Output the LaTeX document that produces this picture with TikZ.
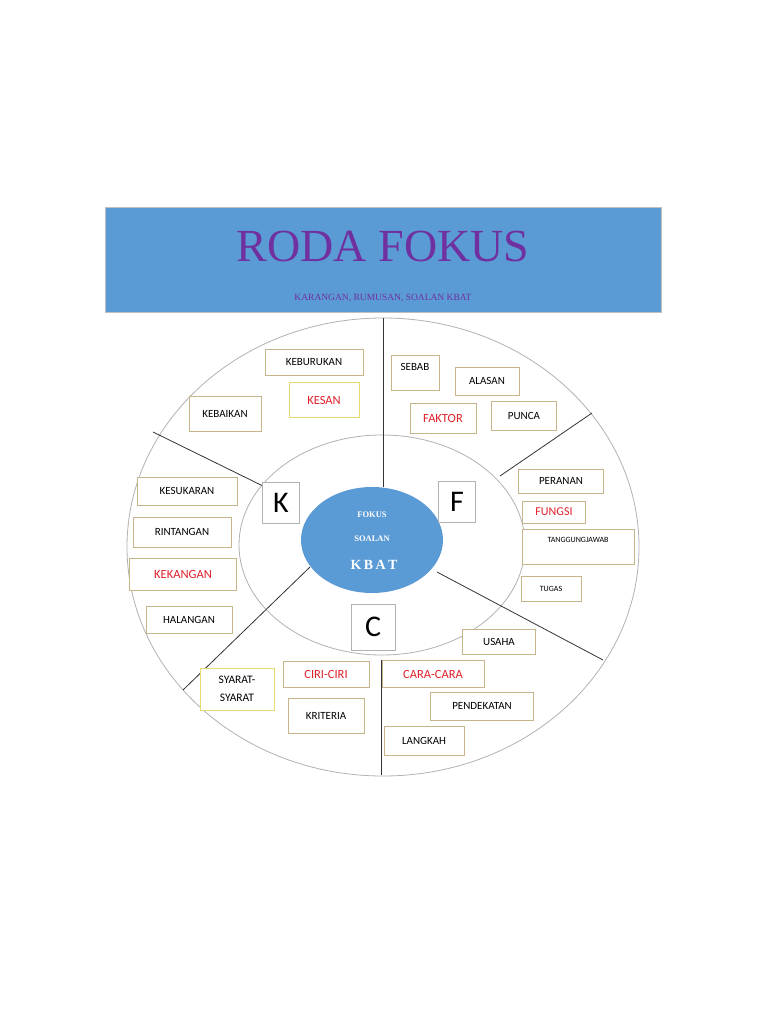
\documentclass[tikz,border=0pt]{standalone}
\usepackage{fontspec}
\usetikzlibrary{shapes.geometric}
\setmainfont{Carlito}
\newfontfamily\serifx{Liberation Serif}
\begin{document}
\begin{tikzpicture}[x=1pt,y=-1pt,
  wbox/.style={draw=tanc,line width=1pt,fill=white,inner sep=0pt,font=\fontsize{11}{12}\selectfont},
  redt/.style={text=redc},
  lettr/.style={draw=gray!60,fill=white,minimum width=37,minimum height=41,inner sep=0pt,font=\fontsize{30}{30}\selectfont},
  spoke/.style={draw=black!80,line width=0.8pt}]
\definecolor{bannerc}{HTML}{5B9BD5}
\definecolor{purp}{HTML}{7030A0}
\definecolor{tanc}{HTML}{C8B48A}
\definecolor{yelc}{HTML}{E6DC6E}
\definecolor{redc}{HTML}{E0202A}
\definecolor{centc}{HTML}{5B9BD5}
\useasboundingbox (0,0) rectangle (768,1024);
\fill[white] (0,0) rectangle (768,1024);
% banner
\node[draw=gray!50,fill=bannerc,minimum width=556,minimum height=105,inner sep=0pt] (banner) at (383,259.5) {};
\node[text=purp,font=\serifx\fontsize{46}{46}\selectfont] (title) at (383,246) {RODA FOKUS};
\node[text=purp,font=\serifx\fontsize{9.5}{10}\selectfont] (sub) at (383,298) {KARANGAN, RUMUSAN, SOALAN KBAT};
% wheel
\draw[gray!60,line width=0.8pt] (383,547) ellipse (256 and 229);
\draw[gray!60,line width=0.8pt] (382,545) ellipse (143 and 110);
\coordinate (t1) at (383,318); \coordinate (t2) at (383,487);
\coordinate (ul1) at (153,432); \coordinate (ul2) at (265,487);
\coordinate (ur1) at (592,413); \coordinate (ur2) at (500,476);
\coordinate (ll1) at (183,690); \coordinate (ll2) at (310,567);
\coordinate (lr1) at (437,572); \coordinate (lr2) at (603,660);
\coordinate (b1) at (381,660); \coordinate (b2) at (381,775);
\draw[spoke] (t1)--(t2); \draw[spoke] (ul1)--(ul2); \draw[spoke] (ur1)--(ur2);
\draw[spoke] (ll1)--(ll2); \draw[spoke] (lr1)--(lr2); \draw[spoke] (b1)--(b2);
\node[ellipse,fill=centc,minimum width=142,minimum height=106,inner sep=0pt] (centre) at (372,540) {};
\node[text=white,font=\serifx\bfseries\fontsize{8.5}{9}\selectfont] (c1) at (372,515) {FOKUS};
\node[text=white,font=\serifx\bfseries\fontsize{8.5}{9}\selectfont] (c2) at (372,539) {SOALAN};
\node[text=white,font=\serifx\bfseries\fontsize{14}{14}\selectfont] (c3) at (374,565) {K\,B\,A\,T};
% letters
\node[lettr] (K) at (281,503) {K};
\node[lettr] (F) at (457,502) {F};
\node[lettr,minimum width=44,minimum height=46] (C) at (373,627) {C};
% boxes
\node[wbox,minimum width=98,minimum height=26] (keburukan) at (314,362) {KEBURUKAN};
\node[wbox,draw=yelc,redt,minimum width=70,minimum height=35,font=\fontsize{12.5}{13}\selectfont] (kesan) at (324,400) {KESAN};
\node[wbox,minimum width=72,minimum height=35] (kebaikan) at (225,414) {KEBAIKAN};
\node[wbox,minimum width=48,minimum height=35,text depth=12pt] (sebab) at (415,373) {SEBAB};
\node[wbox,minimum width=64,minimum height=28] (alasan) at (487,381) {ALASAN};
\node[wbox,redt,minimum width=66,minimum height=30,font=\fontsize{12.5}{13}\selectfont] (faktor) at (443,418) {FAKTOR};
\node[wbox,minimum width=65,minimum height=29] (punca) at (524,416) {PUNCA};
\node[wbox,minimum width=100,minimum height=28] (kesukaran) at (187,491) {KESUKARAN};
\node[wbox,minimum width=98,minimum height=30] (rintangan) at (182,532) {RINTANGAN};
\node[wbox,redt,minimum width=107,minimum height=32,font=\fontsize{12.5}{13}\selectfont] (kekangan) at (183,574) {KEKANGAN};
\node[wbox,minimum width=86,minimum height=27] (halangan) at (189,620) {HALANGAN};
\node[wbox,minimum width=85,minimum height=24] (peranan) at (561,481) {PERANAN};
\node[wbox,redt,minimum width=63,minimum height=22,font=\fontsize{12}{13}\selectfont] (fungsi) at (554,512) {FUNGSI};
\node[wbox,minimum width=112,minimum height=35,font=\fontsize{8}{9}\selectfont,text depth=14pt] (tj) at (578,547) {TANGGUNGJAWAB};
\node[wbox,minimum width=60,minimum height=25,font=\fontsize{8}{9}\selectfont] (tugas) at (551,589) {TUGAS};
\node[wbox,minimum width=73,minimum height=25] (usaha) at (499,642) {USAHA};
\node[wbox,redt,minimum width=86,minimum height=26,font=\fontsize{12.5}{13}\selectfont] (ciri) at (326,674) {CIRI-CIRI};
\node[wbox,redt,minimum width=102,minimum height=27,font=\fontsize{12.5}{13}\selectfont] (cara) at (433,674) {CARA-CARA};
\node[wbox,draw=yelc,minimum width=74,minimum height=42,align=center,font=\fontsize{11.5}{18}\selectfont] (syarat) at (237,689) {SYARAT-\\SYARAT};
\node[wbox,minimum width=76,minimum height=35] (kriteria) at (326,716) {KRITERIA};
\node[wbox,minimum width=103,minimum height=28] (pendekatan) at (482,706) {PENDEKATAN};
\node[wbox,minimum width=80,minimum height=29] (langkah) at (424,741) {LANGKAH};
\end{tikzpicture}
\end{document}
